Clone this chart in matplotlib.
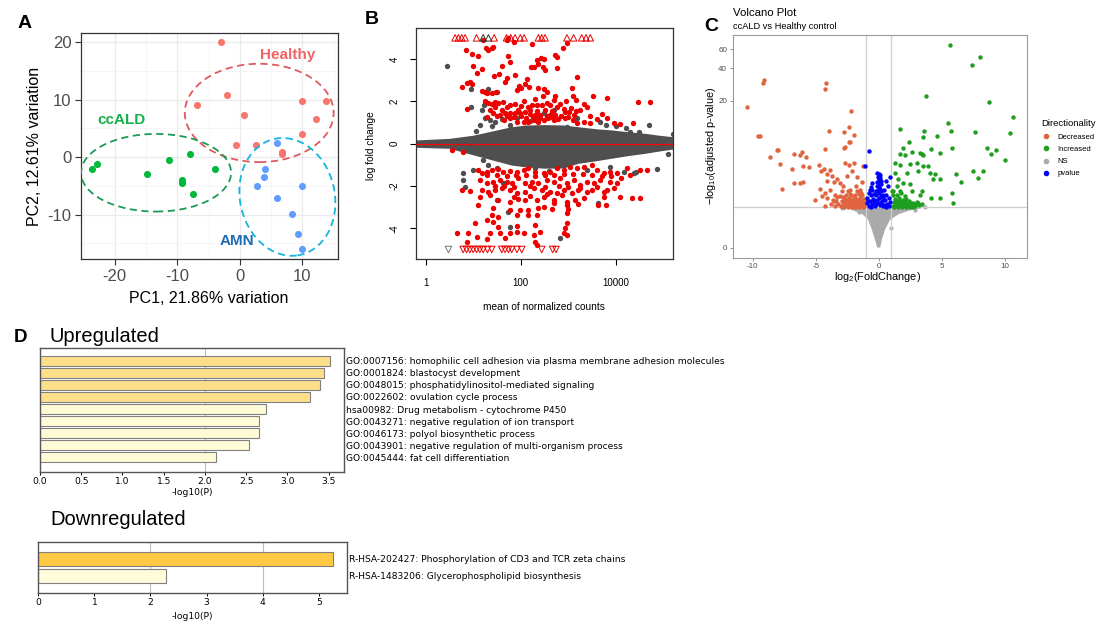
import numpy as np
import matplotlib.pyplot as plt
from matplotlib.patches import Ellipse
from matplotlib.lines import Line2D
from matplotlib.ticker import NullLocator

plt.rcParams['font.family'] = ['Liberation Sans', 'DejaVu Sans']
plt.rcParams['axes.unicode_minus'] = False
plt.rcParams['mathtext.fontset'] = 'custom'
plt.rcParams['mathtext.rm'] = 'Liberation Sans'
plt.rcParams['mathtext.it'] = 'Liberation Sans:italic'

# ---------------- A: PCA ----------------
healthy_pc1 = [-3.0, -2.1, -6.9, 0.7, 10.0, 13.8, 12.2, 9.9, -0.6, 2.6, 6.7, 6.7]
healthy_pc2 = [20.0, 10.8, 9.0, 7.4, 9.8, 9.8, 6.6, 4.0, 2.2, 2.2, 0.9, 0.6]
ccald_pc1 = [-23.6, -22.8, -14.8, -11.3, -8.0, -9.3, -9.3, -7.5, -4.0]
ccald_pc2 = [-2.0, -1.1, -3.0, -0.5, 0.6, -4.0, -4.5, -6.4, -2.0]
amn_pc1 = [5.9, 4.1, 3.8, 2.7, 9.9, 6.0, 8.3, 9.3, 10.0]
amn_pc2 = [2.4, -2.0, -3.4, -5.0, -5.0, -7.1, -9.8, -13.4, -15.9]

# ellipses: Healthy, ccALD, AMN
ell_cx = [3.1, -13.4, 7.6]
ell_cy = [7.7, -2.7, -6.9]
ell_w = [23.8, 24.0, 15.2]
ell_h = [17.1, 13.5, 20.6]
ell_angle = [0, 0, 9]

# ---------------- B: MA plot (log10 mean count, log fold change) ----------------
band_lc = [-0.25, 0.5, 1.0, 1.4, 1.8, 2.1, 2.5, 2.9, 3.2, 3.6, 3.9, 4.3, 4.6, 4.9, 5.3]
band_hi = [0.17, 0.25, 0.4, 0.6, 0.8, 0.88, 0.9, 0.88, 0.8, 0.7, 0.65, 0.55, 0.49, 0.4, 0.3]
band_lo = [-0.17, -0.22, -0.53, -0.77, -1.01, -1.1, -1.16, -1.15, -0.93, -0.8, -0.69, -0.55,
           -0.46, -0.35, -0.22]

ma_grey = [(0.46, 3.67), (0.95, 2.57), (0.95, 1.75), (1.23, 1.83), (1.18, 1.59), (1.25, 1.23),
           (1.35, 1.12), (1.14, 0.88), (1.46, 1.04), (1.6, 1.15), (1.78, 0.88), (1.92, 1.23),
           (2.34, 1.2), (2.48, 1.43), (2.69, 1.59), (2.97, 0.8), (3.18, 1.23), (3.67, 1.01),
           (3.78, 0.88), (4.2, 0.72), (4.69, 0.88), (4.3, 0.54), (4.48, 0.57), (1.49, 2.46),
           (1.32, 2.57), (0.79, -1.4), (0.79, -1.72), (0.83, -2.03), (1.63, -1.87), (1.78, -3.92),
           (1.74, -3.21), (2.83, -4.47), (1.49, -2.66), (2.3, -1.16), (1.32, -1.01), (1.0, -1.24),
           (4.16, -1.32), (4.37, -1.4), (3.88, -1.09), (3.63, -2.82), (4.86, -1.21), (4.43, -1.32),
           (5.1, -0.5), (5.2, 0.45), (1.05, 0.6), (1.2, -0.75), (1.5, -1.15), (2.6, -1.3),
           (3.4, -1.25), (4.0, 0.85), (1.4, 0.85), (2.2, 1.05)]

ma_red = [(0.85, 4.43), (0.97, 4.22), (1.11, 4.16), (1.2, 4.9), (1.27, 4.54), (1.32, 4.43),
          (1.39, 4.54), (1.42, 4.59), (1.71, 4.9), (1.74, 4.98), (1.85, 4.82), (2.23, 4.7),
          (2.97, 4.74), (2.88, 4.54), (2.72, 4.19), (2.76, 4.11), (1.0, 3.69), (1.18, 3.51),
          (1.07, 3.32), (1.73, 4.14), (1.78, 3.84), (1.6, 3.69), (1.44, 3.21), (1.55, 3.28),
          (1.71, 3.09), (1.67, 2.93), (1.88, 3.25), (2.34, 3.96), (2.42, 4.03), (2.48, 4.0),
          (2.37, 3.75), (2.46, 3.64), (2.51, 3.48), (2.27, 3.64), (2.21, 3.61), (2.76, 3.59),
          (0.76, 2.66), (0.86, 2.85), (0.93, 2.9), (0.97, 2.8), (1.18, 2.49), (1.25, 2.46),
          (1.3, 2.38), (1.39, 2.38), (1.48, 2.46), (1.96, 2.74), (2.0, 2.62), (1.92, 2.54),
          (2.13, 3.04), (2.08, 2.8), (2.18, 2.69), (2.37, 2.62), (2.49, 2.58), (2.46, 2.27),
          (2.55, 2.46), (2.72, 2.27), (3.07, 2.62), (3.09, 2.27), (3.19, 3.17), (3.52, 2.27),
          (3.81, 2.17), (0.86, 1.62), (1.25, 2.02), (1.32, 1.91), (1.39, 1.86), (1.46, 1.99),
          (1.53, 1.91), (1.63, 1.99), (1.71, 1.75), (1.78, 1.83), (1.88, 1.87), (2.06, 2.02),
          (2.16, 1.75), (2.23, 1.83), (2.34, 1.83), (2.44, 1.83), (2.55, 1.91), (2.62, 1.83),
          (2.76, 1.75), (2.83, 1.86), (3.32, 1.86), (3.39, 1.75), (3.17, 1.54), (3.02, 1.48),
          (4.46, 1.95), (4.72, 1.95), (1.35, 1.59), (1.42, 1.43), (1.56, 1.35), (1.67, 1.43),
          (1.78, 1.43), (1.88, 1.43), (1.99, 1.43), (2.09, 1.48), (2.2, 1.39), (2.3, 1.35),
          (2.41, 1.35), (2.62, 1.35), (2.72, 1.35), (2.93, 1.48), (1.65, 1.12), (1.78, 1.2),
          (1.92, 1.04), (2.06, 1.04), (2.16, 1.04), (2.27, 1.12), (2.37, 1.04), (2.48, 1.12),
          (2.58, 1.2), (2.69, 1.12), (2.79, 1.15), (2.93, 1.2), (3.11, 1.35), (3.18, 0.96),
          (3.32, 1.04), (3.46, 0.96), (3.81, 1.23), (3.95, 0.96), (4.09, 0.91), (4.36, 0.96),
          (1.28, 1.28),
          (1.7, 1.3), (1.85, 1.25), (2.0, 1.3), (2.1, 1.2), (2.25, 1.25), (2.4, 1.22),
          (2.55, 1.3), (2.65, 1.25), (2.85, 1.3), (3.0, 1.25), (3.1, 1.1), (2.2, 1.6),
          (2.35, 1.55), (2.5, 1.6), (2.65, 1.55), (2.9, 1.62), (3.05, 1.7), (3.25, 1.6),
          (3.45, 1.3), (3.6, 1.15), (3.7, 1.4), (1.95, 1.6), (1.6, 1.6), (1.5, 1.3),
          (1.45, 1.75), (2.0, 1.8), (2.7, 2.05), (2.95, 2.0), (3.15, 2.05), (2.3, 2.1),
          (0.55, -0.3), (0.79, -0.38), (1.11, -1.24), (1.18, -1.4), (1.28, -1.32), (1.39, -1.24),
          (1.53, -1.21), (1.63, -1.32), (1.78, -1.29), (1.92, -1.32), (2.06, -1.24), (2.16, -1.16),
          (2.3, -1.32), (2.48, -1.4), (2.62, -1.32), (2.76, -1.16), (2.9, -1.24), (3.04, -1.09),
          (3.18, -1.16), (3.32, -1.09), (3.49, -1.01), (3.6, -1.24), (3.74, -1.4), (3.88, -1.32),
          (4.02, -1.4), (4.23, -1.16), (4.51, -1.24), (4.65, -1.24), (1.14, -1.72), (1.28, -1.87),
          (1.42, -1.8), (1.56, -1.72), (1.71, -1.8), (1.81, -1.87), (1.95, -1.64), (2.09, -1.87),
          (2.23, -1.8), (2.37, -1.87), (2.55, -1.72), (2.69, -1.8), (2.83, -1.64), (2.97, -1.87),
          (3.11, -1.72), (3.25, -1.95), (3.39, -1.8), (3.53, -1.87), (3.67, -1.72), (3.88, -1.8),
          (4.02, -1.87), (0.76, -2.19), (0.93, -2.22), (1.18, -2.19), (1.32, -2.27), (1.46, -2.19),
          (1.6, -2.11), (1.78, -2.19), (1.92, -2.35), (2.09, -2.27), (2.27, -2.11), (2.44, -2.19),
          (2.62, -2.27), (2.76, -2.35), (2.9, -2.19), (3.07, -2.35), (3.21, -2.19), (3.39, -2.27),
          (3.49, -2.19), (3.81, -2.19), (3.95, -2.11), (1.14, -2.5), (1.35, -2.43), (1.53, -2.66),
          (1.78, -2.74), (1.85, -2.5), (2.09, -2.66), (2.34, -2.66), (2.48, -2.5), (2.69, -2.66),
          (2.86, -2.43), (2.97, -2.74), (3.14, -2.66), (3.32, -2.58), (3.74, -2.5), (4.09, -2.5),
          (4.34, -2.58), (4.51, -2.58), (1.11, -2.9), (1.42, -3.06), (1.78, -3.13), (1.99, -3.13),
          (2.16, -3.13), (2.37, -3.06), (2.48, -2.98), (2.69, -2.82), (2.97, -2.9), (3.63, -2.9),
          (3.78, -2.9), (1.39, -3.37), (1.42, -3.69), (1.53, -3.45), (1.92, -3.37), (2.16, -3.37),
          (2.34, -3.37), (2.97, -3.29), (1.28, -3.61), (1.53, -3.95), (1.04, -3.76), (1.92, -3.89),
          (2.3, -3.84), (2.41, -4.16), (2.97, -3.76), (2.93, -4.0), (0.65, -4.24), (0.9, -4.24),
          (1.07, -4.43), (1.28, -4.51), (1.35, -4.24), (1.56, -4.24), (1.67, -4.47), (1.78, -4.24),
          (1.92, -4.16), (2.06, -4.24), (2.27, -4.32), (2.3, -4.63), (2.34, -4.79), (2.9, -4.21),
          (2.97, -4.32), (0.86, -4.66),
          (1.3, -1.5), (1.5, -1.5), (1.7, -1.55), (1.9, -1.5), (2.1, -1.5), (2.3, -1.55),
          (2.5, -1.5), (2.7, -1.5), (2.9, -1.45), (3.1, -1.45), (3.3, -1.45), (3.5, -1.5),
          (3.7, -1.55), (3.9, -1.55), (4.1, -1.6), (4.3, -1.5), (1.45, -2.0), (1.65, -2.0),
          (1.85, -2.05), (2.2, -2.0), (2.5, -2.05), (2.8, -2.0), (3.0, -2.05), (3.25, -2.1),
          (3.6, -2.05), (3.75, -2.3), (2.55, -2.4), (2.2, -2.45), (1.95, -2.6), (2.65, -3.1),
          (3.0, -3.1), (3.2, -2.85)]

# out-of-range genes drawn as triangles at the plot limit
ma_limit = 5
up_tri_red = [0.62, 0.69, 0.76, 0.83, 1.07, 1.44, 1.70, 1.79, 1.88, 1.99, 2.07, 2.37, 2.44,
              2.51, 2.97, 3.11, 3.28, 3.37, 3.46]
up_tri_grey = [1.21, 1.32]
down_tri_red = [0.79, 0.86, 0.93, 1.0, 1.07, 1.14, 1.21, 1.30, 1.39, 1.60, 1.67, 1.74, 1.81,
                1.92, 2.02, 2.44, 2.67, 2.74]
down_tri_grey = [0.48]

# ---------------- C: volcano (log2FC, -log10 padj) ----------------
ns_x = [0.12, 0.25, 0.5, 0.9, 1.6, 2.4, 3.6, -2.7, -2.0, -1.3, -0.85, -0.55, -0.3, -0.12]
ns_y = [0.0, 0.18, 0.45, 0.78, 1.0, 1.15, 1.28, 1.3, 1.15, 1.0, 0.78, 0.45, 0.18, 0.0]
ns_extra = [(1.0, 0.5), (3.7, 1.3), (-2.9, 1.25), (2.9, 1.2), (0.6, 1.1), (-1.6, 1.1)]

vol_dec = [(-9.13, 31.0), (-9.21, 29.6), (-4.17, 29.2), (-4.25, 25.9), (-10.5, 17.6), (-2.22, 15.8),
           (-9.45, 9.1), (-9.56, 9.0), (-3.94, 10.2), (-2.72, 10.0), (-2.33, 11.2), (-1.93, 9.4),
           (-2.33, 7.9), (-2.72, 6.95), (-8.08, 6.6), (-4.28, 6.7),
           (-8.6, 5.5), (-8.0, 6.5), (-7.87, 4.7), (-7.68, 2.4), (-6.89, 4.1), (-6.76, 6.0),
           (-6.23, 5.8), (-6.1, 6.2), (-5.76, 5.5), (-6.02, 4.45), (-5.57, 4.3), (-6.76, 2.85),
           (-6.23, 2.8), (-6.02, 2.9), (-4.78, 4.55), (-4.59, 3.85), (-4.38, 4.1), (-3.91, 4.0),
           (-4.12, 3.6), (-3.72, 3.4), (-4.12, 3.0), (-3.59, 2.9), (-3.06, 2.8), (-2.67, 7.0),
           (-2.32, 8.0), (-2.67, 4.75), (-2.4, 4.55), (-1.95, 4.75), (-2.14, 3.85), (-2.53, 3.4),
           (-1.74, 3.3), (-4.65, 2.4), (-4.25, 2.1), (-3.86, 2.3), (-3.46, 2.0), (-2.93, 2.2),
           (-4.12, 1.8), (-3.59, 1.6), (-4.25, 1.38), (-5.04, 1.7), (-4.52, 1.9), (-3.32, 3.1),
           (-2.8, 2.55), (-2.27, 2.3), (-1.8, 2.55), (-1.35, 2.9), (-1.22, 4.45),
           (-2.9, 1.35), (-2.6, 1.4), (-2.3, 1.35), (-2.0, 1.4), (-1.7, 1.35), (-1.4, 1.4),
           (-1.15, 1.35), (-2.8, 1.55), (-2.5, 1.6), (-2.2, 1.5), (-1.9, 1.55), (-1.6, 1.6),
           (-1.3, 1.5), (-1.1, 1.6), (-2.7, 1.75), (-2.4, 1.8), (-2.1, 1.7), (-1.8, 1.75),
           (-1.5, 1.8), (-1.2, 1.75), (-3.1, 1.9), (-2.6, 2.0), (-2.2, 1.95), (-1.9, 2.0),
           (-1.6, 2.05), (-1.3, 1.95), (-3.4, 1.6), (-3.2, 1.45), (-3.6, 1.7), (-2.45, 2.2),
           (-1.75, 2.2), (-1.45, 2.3),
           (-2.75, 1.3), (-2.45, 1.3), (-2.15, 1.3), (-1.85, 1.3), (-1.55, 1.3), (-1.25, 1.3),
           (-2.65, 1.48), (-2.35, 1.47), (-2.05, 1.48), (-1.75, 1.47), (-1.45, 1.5), (-1.2, 1.48),
           (-2.55, 1.68), (-2.25, 1.65), (-1.95, 1.65), (-1.65, 1.7), (-1.35, 1.65), (-2.95, 1.6),
           (-3.0, 1.35), (-2.85, 1.85), (-2.0, 1.85), (-1.4, 2.1), (-2.3, 2.05), (-3.3, 1.85),
           (-3.8, 1.45), (-3.5, 1.35)]

vol_inc = [(5.64, 65.6), (8.07, 50.5), (7.39, 42.6), (3.75, 22.1), (8.76, 19.5), (10.66, 14.0),
           (5.51, 12.3), (1.69, 10.7), (3.59, 10.2), (5.72, 10.2), (7.63, 10.0), (10.4, 9.7),
           (3.48, 8.9), (4.59, 9.0), (2.43, 7.9), (1.9, 6.95), (5.85, 6.8), (8.6, 6.95),
           (9.34, 6.6), (4.14, 6.7), (1.69, 6.0), (2.08, 5.8), (2.61, 6.3), (3.27, 6.1),
           (3.4, 6.0), (3.53, 5.8), (4.85, 6.1), (8.95, 6.0), (10.0, 5.1), (1.29, 4.75),
           (1.69, 4.55), (2.48, 4.7), (3.01, 4.75), (3.53, 4.45), (3.93, 4.4), (3.14, 3.85),
           (2.22, 3.7), (4.06, 3.7), (4.46, 3.6), (4.85, 3.1), (4.32, 3.1), (1.29, 3.7),
           (1.55, 3.1), (1.95, 2.85), (2.48, 2.75), (1.42, 2.55), (1.16, 2.2), (1.69, 2.2),
           (2.61, 2.2), (3.4, 2.2), (3.27, 2.0), (4.19, 1.8), (4.85, 1.8), (5.85, 2.1),
           (5.91, 1.5), (6.17, 3.6), (6.57, 2.9), (7.5, 3.85), (7.9, 3.2), (8.3, 3.9),
           (1.1, 1.35), (1.4, 1.4), (1.7, 1.35), (2.0, 1.4), (2.3, 1.35), (2.6, 1.4), (2.9, 1.35),
           (3.2, 1.4), (1.2, 1.55), (1.5, 1.6), (1.8, 1.5), (2.1, 1.55), (2.4, 1.6), (2.7, 1.5),
           (3.0, 1.55), (1.3, 1.75), (1.6, 1.8), (1.9, 1.7), (2.2, 1.75), (1.15, 1.95),
           (1.45, 2.0), (1.75, 2.1), (2.05, 1.9), (3.4, 1.45), (1.05, 2.2),
           (1.25, 1.3), (1.55, 1.3), (1.85, 1.3), (2.15, 1.3), (2.45, 1.3), (2.75, 1.3),
           (1.35, 1.48), (1.65, 1.47), (1.95, 1.45), (2.25, 1.48), (2.55, 1.5), (2.85, 1.47),
           (3.1, 1.5), (1.4, 1.65), (1.7, 1.65)]

vol_pval = [(-0.74, 6.4), (-1.08, 4.4), (0.9, 3.3),
            (-0.1, 3.7), (0.0, 3.6), (0.1, 3.5), (-0.05, 3.3), (0.05, 3.1), (0.15, 3.0),
            (-0.1, 2.9), (0.0, 2.8), (0.2, 2.7), (-0.15, 2.6), (0.05, 2.5), (0.1, 2.4),
            (-0.05, 2.3), (0.2, 2.2), (0.0, 2.1), (-0.2, 2.0), (0.15, 1.9), (0.05, 1.8),
            (-0.1, 1.7), (0.25, 1.6), (0.0, 1.5), (-0.25, 1.45), (0.1, 1.4), (0.3, 1.35),
            (-0.55, 2.8), (-0.65, 2.5), (-0.5, 2.3), (-0.8, 2.1), (-0.6, 1.95), (-0.9, 1.8),
            (-0.45, 1.75), (-0.7, 1.6), (-0.95, 1.5), (-0.5, 1.45), (-0.8, 1.38), (-0.35, 1.6),
            (-0.4, 2.05), (0.45, 2.3), (0.6, 2.0), (0.8, 1.8), (0.5, 1.7), (0.9, 1.55),
            (0.65, 1.45), (0.4, 1.4), (0.85, 1.35), (0.7, 2.6), (0.55, 3.0),
            (-0.3, 1.35), (-0.6, 1.3), (-0.85, 1.6), (0.2, 1.5), (0.6, 1.3), (0.35, 1.8),
            (-0.25, 2.2), (0.3, 2.0), (-0.7, 2.3), (0.1, 3.2)]

vol_names = ['Decreased', 'Increased', 'NS', 'pvalue']
vol_colors = ['#E0643F', '#1E9E1E', '#AAAAAA', '#0000FF']
fc_cut = 1
p_cut = 1.3

# ---------------- D: enrichment ----------------
up_terms = ['GO:0007156: homophilic cell adhesion via plasma membrane adhesion molecules',
            'GO:0001824: blastocyst development',
            'GO:0048015: phosphatidylinositol-mediated signaling',
            'GO:0022602: ovulation cycle process',
            'hsa00982: Drug metabolism - cytochrome P450',
            'GO:0043271: negative regulation of ion transport',
            'GO:0046173: polyol biosynthetic process',
            'GO:0043901: negative regulation of multi-organism process',
            'GO:0045444: fat cell differentiation']
up_logp = [3.52, 3.44, 3.39, 3.28, 2.74, 2.66, 2.65, 2.54, 2.13]
up_colors = ['#FDDF8B'] * 4 + ['#FFFBD6'] * 5

down_terms = ['R-HSA-202427: Phosphorylation of CD3 and TCR zeta chains',
              'R-HSA-1483206: Glycerophospholipid biosynthesis']
down_logp = [5.25, 2.27]
down_colors = ['#FFC845', '#FFFCDC']

# ======================================================
W, H = 1106, 628
fig = plt.figure(figsize=(W / 100, H / 100), dpi=100)


def box(l, t, r, b):
    return [l / W, 1 - b / H, (r - l) / W, (b - t) / H]


def ftext(x, y, s, **kw):
    fig.text(x / W, 1 - y / H, s, **kw)


# ---------------- A ----------------
axA = fig.add_axes(box(81, 33, 338, 259))
axA.set_xlim(-25.4, 15.7)
axA.set_ylim(-17.7, 21.6)
axA.set_xticks([-20, -10, 0, 10])
axA.set_yticks([-10, 0, 10, 20])
axA.set_xticks([-25, -15, -5, 5, 15], minor=True)
axA.set_yticks([-15, -5, 5, 15], minor=True)
axA.grid(which='major', color='#EBEBEB', lw=0.9)
axA.grid(which='minor', color='#F5F5F5', lw=0.6)
axA.set_axisbelow(True)
axA.tick_params(which='minor', length=0)
axA.tick_params(which='major', length=4, width=0.8, color='#333333', labelsize=12,
                labelcolor='#4D4D4D', pad=3)
for s in axA.spines.values():
    s.set_color('#333333')
    s.set_linewidth(0.9)

axA.scatter(healthy_pc1, healthy_pc2, s=26, color='#F8766D', lw=0, zorder=3)
axA.scatter(ccald_pc1, ccald_pc2, s=26, color='#00B83A', lw=0, zorder=3)
axA.scatter(amn_pc1, amn_pc2, s=26, color='#619CFF', lw=0, zorder=3)

ell_colors = ['#DD5A60', '#1C9A55', '#14B4DC']
for cx, cy, w, h, a, c in zip(ell_cx, ell_cy, ell_w, ell_h, ell_angle, ell_colors):
    axA.add_patch(Ellipse((cx, cy), w, h, angle=a, fill=False, ec=c, lw=1.3,
                          ls=(0, (4, 2.5)), zorder=4))

axA.text(7.7, 17.8, 'Healthy', color='#EE6464', fontsize=11, fontweight='bold',
         ha='center', va='center')
axA.text(-19.0, 6.5, 'ccALD', color='#14B04A', fontsize=11, fontweight='bold',
         ha='center', va='center')
axA.text(-0.5, -14.6, 'AMN', color='#1E6DB3', fontsize=11, fontweight='bold',
         ha='center', va='center')
ftext(209, 303.3, 'PC1, 21.86% variation', fontsize=11.5, ha='center', va='baseline')
ftext(35, 146.5, 'PC2, 12.61% variation', fontsize=11.5, ha='center', va='center', rotation=90)

# ---------------- B ----------------
axB = fig.add_axes(box(415.7, 28.3, 673.3, 259))
axB.set_xscale('log')
axB.set_xlim(0.62, 1.6e5)
axB.set_ylim(-5.45, 5.45)
axB.xaxis.set_minor_locator(NullLocator())
axB.set_xticks([1, 100, 10000], ['1', '100', '10000'])
axB.set_yticks([-4, -2, 0, 2, 4])
axB.set_yticklabels(['-4', '-2', '0', '2', '4'], rotation=90, va='center')
axB.tick_params(length=4.5, width=0.8, labelsize=7, pad=9)
axB.tick_params(axis='y', pad=7)
for s in axB.spines.values():
    s.set_linewidth(0.9)
    s.set_color('#333333')

grey_c = '#4F4F4F'
axB.fill_between(10 ** np.array(band_lc), band_lo, band_hi, color=grey_c, lw=0, zorder=1)
g = np.array(ma_grey)
axB.scatter(10 ** g[:, 0], g[:, 1], s=15, color=grey_c, lw=0, zorder=2)
r = np.array(ma_red)
axB.scatter(10 ** r[:, 0], r[:, 1], s=15, color='#EE0000', lw=0, zorder=3)
axB.axhline(0, color='#FF0000', lw=0.9, zorder=4)
axB.scatter(10 ** np.array(up_tri_red), [ma_limit] * len(up_tri_red), marker='^', s=22,
            facecolor='none', edgecolor='#EE0000', lw=0.7, zorder=3)
axB.scatter(10 ** np.array(up_tri_grey), [ma_limit] * len(up_tri_grey), marker='^', s=22,
            facecolor='none', edgecolor='#333333', lw=0.7, zorder=3)
axB.scatter(10 ** np.array(down_tri_red), [-ma_limit] * len(down_tri_red), marker='v', s=22,
            facecolor='none', edgecolor='#EE0000', lw=0.7, zorder=3)
axB.scatter(10 ** np.array(down_tri_grey), [-ma_limit] * len(down_tri_grey), marker='v', s=22,
            facecolor='none', edgecolor='#777777', lw=0.7, zorder=3)
ftext(544, 309.5, 'mean of normalized counts', fontsize=7.3, ha='center', va='baseline')
ftext(371, 146, 'log fold change', fontsize=7.3, ha='center', va='center', rotation=90)

# ---------------- C ----------------
axC = fig.add_axes(box(732.7, 35, 1027.3, 257.7))


def fwd(y):
    return np.log10(1 + np.clip(y, -0.99, None))


def inv(u):
    return 10 ** u - 1


axC.set_yscale('function', functions=(fwd, inv))
axC.set_xlim(-11.6, 11.8)
axC.set_ylim(-0.19, 81)
axC.set_xticks([-10, -5, 0, 5, 10])
axC.set_yticks([0, 20, 40, 60])
axC.yaxis.set_minor_locator(NullLocator())
axC.tick_params(length=2.5, width=0.6, color='#7F7F7F', labelsize=5.8,
                labelcolor='#4D4D4D', pad=1.5)
for s in axC.spines.values():
    s.set_color('#9A9A9A')
    s.set_linewidth(0.8)

axC.fill(ns_x, ns_y, color=vol_colors[2], lw=0, zorder=1)
ne = np.array(ns_extra)
axC.scatter(ne[:, 0], ne[:, 1], s=9, color=vol_colors[2], lw=0, zorder=1)
for xv in (-fc_cut, fc_cut):
    axC.axvline(xv, color='#CFCFCF', lw=0.9, zorder=1.5)
axC.axhline(p_cut, color='#CFCFCF', lw=0.9, zorder=1.5)
for pts, c in zip([vol_dec, vol_inc, vol_pval], [vol_colors[0], vol_colors[1], vol_colors[3]]):
    p = np.array(pts)
    axC.scatter(p[:, 0], p[:, 1], s=10, color=c, lw=0, zorder=2)

ftext(878, 280.5, r'log$_{\mathregular{2}}$(FoldChange)', fontsize=7.8, ha='center',
      va='baseline')
ftext(711, 146, r'$-$log$_{\mathregular{10}}$(adjusted p-value)', fontsize=7.8, ha='center',
      va='center', rotation=90)
ftext(733, 15.7, 'Volcano Plot', fontsize=8.2, ha='left', va='baseline')
ftext(733, 29, 'ccALD vs Healthy control', fontsize=6.7, ha='left', va='baseline')

handles = [Line2D([], [], ls='none', marker='o', ms=3, color=c) for c in vol_colors]
axC.legend(handles, vol_names, title='Directionality', loc='upper left',
           bbox_to_anchor=(1041 / W, 1 - 119.5 / H), bbox_transform=fig.transFigure,
           frameon=False, fontsize=5.5, title_fontsize=6.8, handlelength=1.2,
           handletextpad=0.9, labelspacing=0.64, borderpad=0, borderaxespad=0,
           alignment='left')

# ---------------- D ----------------
def enrich(rect, terms, vals, colors, xmax, xticks, xlabels, grid_at, pad_top, pad_bot):
    ax = fig.add_axes(rect)
    pos = np.arange(len(terms))
    ax.barh(pos, vals, height=0.85, color=colors, edgecolor='#808080', lw=0.8, zorder=2)
    ax.set_ylim(len(terms) - 1 + pad_bot, -pad_top)
    ax.set_xlim(0, xmax)
    for gx in grid_at:
        ax.axvline(gx, color='#BDBDBD', lw=0.8, zorder=1)
    ax.set_xticks(xticks, xlabels)
    ax.yaxis.tick_right()
    ax.set_yticks(pos, terms)
    ax.tick_params(axis='y', length=0, pad=1.5, labelsize=6.55)
    ax.tick_params(axis='x', length=2, width=0.7, pad=1.5, labelsize=6.6)
    for lab in ax.get_xticklabels() + ax.get_yticklabels():
        lab.set_family('DejaVu Sans')
    for s in ax.spines.values():
        s.set_color('#555555')
        s.set_linewidth(1.0)
    return ax


enrich(box(40, 348.3, 344.3, 471.7), up_terms, up_logp, up_colors, 3.69,
       [0, 0.5, 1, 1.5, 2, 2.5, 3, 3.5], ['0.0', '0.5', '1.0', '1.5', '2.0', '2.5', '3.0', '3.5'],
       [2], 1.03, 1.19)
ftext(192, 492.7, '-log10(P)', fontsize=6.6, ha='center', va='center', family='DejaVu Sans')

enrich(box(38.3, 542.3, 346.7, 592.7), down_terms, down_logp, down_colors, 5.5,
       [0, 1, 2, 3, 4, 5], ['0', '1', '2', '3', '4', '5'], [2, 4], 0.98, 1.0)
ftext(192, 616.7, '-log10(P)', fontsize=6.6, ha='center', va='center', family='DejaVu Sans')

ftext(49.3, 341.7, 'Upregulated', fontsize=14.5, ha='left', va='baseline')
ftext(50.7, 525, 'Downregulated', fontsize=14.5, ha='left', va='baseline')

# panel letters
ftext(25, 28.3, 'A', fontsize=14, fontweight='bold', ha='center', va='baseline')
ftext(371.7, 24.5, 'B', fontsize=14, fontweight='bold', ha='center', va='baseline')
ftext(711.3, 30.7, 'C', fontsize=14, fontweight='bold', ha='center', va='baseline')
ftext(20.5, 341.7, 'D', fontsize=13.5, fontweight='bold', ha='center', va='baseline')

fig.savefig('out.png', dpi=100)
